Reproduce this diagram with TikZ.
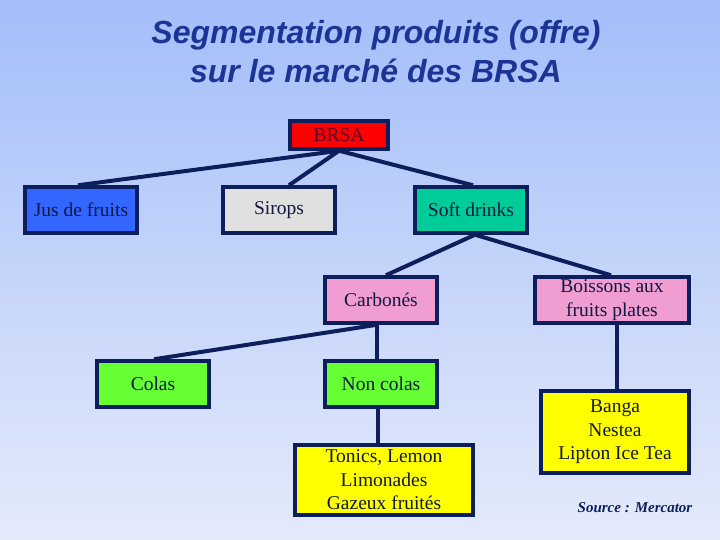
\documentclass[tikz,border=0pt]{standalone}
\usepackage{fontspec}
\setmainfont{Liberation Serif}
\newfontfamily\titlefont{Liberation Sans}
\usetikzlibrary{calc}
\definecolor{navy}{RGB}{12,31,92}
\definecolor{titleblue}{RGB}{28,52,150}
\definecolor{bgtop}{RGB}{164,190,250}
\definecolor{bgbot}{RGB}{228,234,250}
\definecolor{jusblue}{RGB}{51,102,255}
\definecolor{sirgray}{RGB}{224,224,224}
\definecolor{softteal}{RGB}{0,204,153}
\definecolor{pinkbox}{RGB}{240,158,210}
\definecolor{greenbox}{RGB}{102,255,51}
\definecolor{yellowbox}{RGB}{255,255,0}
\definecolor{brsatext}{RGB}{90,0,45}
\definecolor{boxtext}{RGB}{16,24,64}
\begin{document}
\begin{tikzpicture}[x=1pt,y=-1pt,
  box/.style={draw=navy, line width=3.5pt, inner sep=0pt, align=center,
    text=boxtext, font=\fontsize{19.5}{23.5}\selectfont},
  link/.style={draw=navy, line width=4pt}]
\useasboundingbox (0,0) rectangle (720,540);
\shade[top color=bgtop, bottom color=bgbot] (0,0) rectangle (720,540);

\node[font=\titlefont\bfseries\itshape\fontsize{32}{39}\selectfont, text=titleblue, align=center]
  (title) at (376,52) {Segmentation produits (offre)\\sur le marché des BRSA};

\coordinate (brsaS) at (339,151);
\coordinate (jusN) at (78,186);
\coordinate (sirN) at (289,186);
\coordinate (softN) at (473,186);
\coordinate (softS) at (475,234);
\coordinate (carbN) at (386,276);
\coordinate (boisN) at (611,276);
\coordinate (carbS) at (377,324);
\coordinate (colasN) at (154,360);
\coordinate (ncN) at (377,360);
\coordinate (ncS) at (378,408);
\coordinate (tonN) at (378,444);
\coordinate (boisS) at (617,324);
\coordinate (bangaN) at (617,390);

\node[box, fill=red, text=brsatext, minimum width=98pt, minimum height=28pt] (brsa) at (339,135) {BRSA};
\node[box, fill=jusblue, minimum width=112pt, minimum height=46pt] (jus) at (81,210) {Jus de fruits};
\node[box, fill=sirgray, minimum width=112pt, minimum height=46pt] (sir) at (279,210) {Sirops};
\node[box, fill=softteal, minimum width=112pt, minimum height=46pt] (soft) at (471,210) {Soft drinks};
\node[box, fill=pinkbox, minimum width=112pt, minimum height=46pt] (carb) at (381,300) {Carbonés};
\node[box, fill=pinkbox, minimum width=154pt, minimum height=46pt] (bois) at (612,300) {Boissons aux\\fruits plates};
\node[box, fill=greenbox, minimum width=112pt, minimum height=46pt] (colas) at (153,384) {Colas};
\node[box, fill=greenbox, minimum width=112pt, minimum height=46pt] (nc) at (381,384) {Non colas};
\node[box, fill=yellowbox, minimum width=178pt, minimum height=70pt] (ton) at (384,480) {Tonics, Lemon\\Limonades\\Gazeux fruités};
\node[box, fill=yellowbox, minimum width=148pt, minimum height=82pt] (banga) at (615,432) {Banga\\Nestea\\Lipton Ice Tea};

\node[font=\itshape\bfseries\fontsize{15}{18}\selectfont, text=navy] (src) at (635,508) {Source : Mercator};

\draw[link] (brsa.south -| brsaS) -- (jus.north -| jusN);
\draw[link] (brsa.south -| brsaS) -- (sir.north -| sirN);
\draw[link] (brsa.south -| brsaS) -- (soft.north -| softN);
\draw[link] (soft.south -| softS) -- (carb.north -| carbN);
\draw[link] (soft.south -| softS) -- (bois.north -| boisN);
\draw[link] (carb.south -| carbS) -- (colas.north -| colasN);
\draw[link] (carb.south -| carbS) -- (nc.north -| ncN);
\draw[link] (nc.south -| ncS) -- (ton.north -| tonN);
\draw[link] (bois.south -| boisS) -- (banga.north -| bangaN);
\end{tikzpicture}
\end{document}
